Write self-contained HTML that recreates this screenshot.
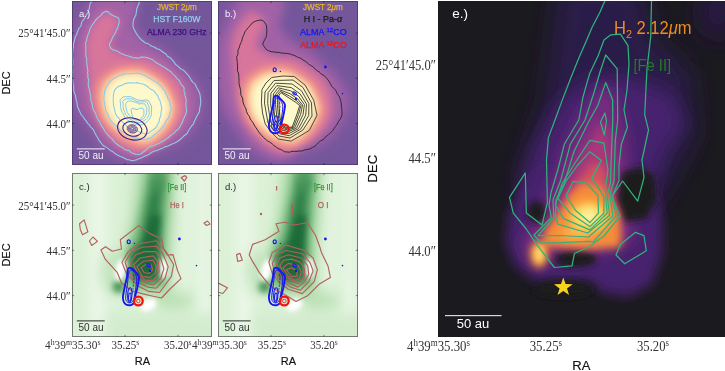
<!DOCTYPE html>
<html lang="en"><head><meta charset="utf-8"><title>Figure</title>
<style>html,body{margin:0;padding:0;background:#fff}body{width:725px;height:371px;overflow:hidden}svg{display:block}</style>
</head><body>
<svg width="725" height="371" viewBox="0 0 725 371">
<defs>
<filter id="b2" x="-50%" y="-50%" width="200%" height="200%"><feGaussianBlur stdDeviation="2"/></filter>
<filter id="b3" x="-50%" y="-50%" width="200%" height="200%"><feGaussianBlur stdDeviation="3"/></filter>
<filter id="b4" x="-50%" y="-50%" width="200%" height="200%"><feGaussianBlur stdDeviation="4"/></filter>
<filter id="b5" x="-50%" y="-50%" width="200%" height="200%"><feGaussianBlur stdDeviation="5"/></filter>
<filter id="b6" x="-50%" y="-50%" width="200%" height="200%"><feGaussianBlur stdDeviation="6"/></filter>
<filter id="b7" x="-50%" y="-50%" width="200%" height="200%"><feGaussianBlur stdDeviation="7"/></filter>
<filter id="b9" x="-50%" y="-50%" width="200%" height="200%"><feGaussianBlur stdDeviation="9"/></filter>
<filter id="b12" x="-50%" y="-50%" width="200%" height="200%"><feGaussianBlur stdDeviation="12"/></filter>
<clipPath id="ca"><rect x="72" y="1" width="140" height="164"/></clipPath>
<clipPath id="cc"><rect x="72" y="173" width="140" height="164"/></clipPath>
<clipPath id="ce"><rect x="438" y="1" width="287" height="336.3"/></clipPath>
<g id="jw">
<rect x="60" y="-10" width="165" height="190" fill="#74569b"/>
<g filter="url(#b7)">
<path d="M94.0,-12.8 C85.5,-10.1 86.2,-1.6 83.0,3.7 C79.8,9.0 77.3,13.8 74.9,18.9 C72.4,24.0 69.7,28.9 68.3,34.3 C66.8,39.6 66.7,45.5 66.3,51.0 C65.9,56.5 65.8,62.2 65.8,67.5 C65.9,72.8 66.0,78.3 66.5,82.9 C67.0,87.5 67.6,90.3 68.7,95.0 C69.8,99.7 71.1,106.4 73.1,111.2 C75.1,115.9 77.9,119.4 80.8,123.6 C83.7,127.8 88.1,132.5 90.7,136.4 C93.3,140.2 93.9,143.7 96.2,146.7 C98.5,149.7 101.1,151.5 104.8,154.1 C108.4,156.6 113.8,159.9 118.2,162.1 C122.6,164.3 127.0,166.9 131.2,167.1 C135.4,167.2 139.3,164.9 143.5,163.2 C147.7,161.5 151.8,158.6 156.4,156.6 C161.0,154.6 166.4,153.2 171.0,151.1 C175.6,149.0 180.2,147.1 184.2,143.9 C188.2,140.8 192.1,136.6 195.2,132.4 C198.3,128.2 201.1,122.8 202.9,118.8 C204.7,114.7 205.6,111.6 206.2,108.2 C206.8,104.8 207.2,102.1 206.6,98.6 C206.1,95.1 204.6,90.7 202.9,87.3 C201.2,83.9 198.9,81.4 196.7,78.5 C194.5,75.6 192.2,72.2 189.7,69.7 C187.2,67.2 184.3,66.1 181.6,63.5 C178.8,61.0 176.1,57.0 173.2,54.3 C170.3,51.6 167.3,49.4 164.0,47.1 C160.7,44.9 156.8,43.0 153.4,41.1 C150.0,39.2 146.6,38.0 143.8,35.8 C141.1,33.6 138.6,30.0 136.9,27.9 C135.2,25.8 134.3,25.5 133.6,23.3 C132.9,21.1 132.1,18.1 132.5,14.7 C132.9,11.3 135.9,7.6 136.2,3.0 C136.5,-1.5 141.3,-10.2 134.3,-12.8 C127.2,-15.4 102.5,-15.6 94.0,-12.8Z" fill="#8459a1"/>
</g><g filter="url(#b5)">
<path d="M98.0,-3.0 C90.2,-0.5 90.9,7.2 88.0,12.0 C85.1,16.8 82.8,21.2 80.6,25.8 C78.4,30.4 75.9,34.9 74.6,39.8 C73.3,44.7 73.2,50.0 72.8,55.0 C72.4,60.0 72.4,65.2 72.4,70.0 C72.4,74.8 72.6,79.8 73.0,84.0 C73.4,88.2 74.0,90.7 75.0,95.0 C76.0,99.3 77.2,105.4 79.0,109.7 C80.8,114.0 83.3,117.2 86.0,121.0 C88.7,124.8 92.7,129.1 95.0,132.6 C97.3,136.1 97.9,139.3 100.0,142.0 C102.1,144.7 104.5,146.4 107.8,148.7 C111.1,151.0 116.0,154.0 120.0,156.0 C124.0,158.0 128.0,160.3 131.8,160.5 C135.6,160.7 139.2,158.6 143.0,157.0 C146.8,155.4 150.5,152.8 154.7,151.0 C158.9,149.2 163.8,147.9 168.0,146.0 C172.2,144.1 176.3,142.3 180.0,139.5 C183.7,136.7 187.2,132.8 190.0,129.0 C192.8,125.2 195.3,120.3 197.0,116.6 C198.7,112.9 199.4,110.0 200.0,107.0 C200.6,104.0 200.9,101.5 200.4,98.3 C199.9,95.1 198.5,91.0 197.0,88.0 C195.5,85.0 193.4,82.7 191.4,80.0 C189.4,77.3 187.3,74.3 185.0,72.0 C182.7,69.7 180.1,68.7 177.6,66.4 C175.1,64.1 172.7,60.5 170.0,58.0 C167.3,55.5 164.6,53.5 161.6,51.5 C158.6,49.5 155.1,47.7 152.0,46.0 C148.9,44.3 145.8,43.2 143.3,41.2 C140.8,39.2 138.6,35.9 137.0,34.0 C135.4,32.1 134.7,31.8 134.0,29.8 C133.3,27.8 132.6,25.1 133.0,22.0 C133.4,18.9 136.1,15.6 136.4,11.4 C136.7,7.2 141.0,-0.6 134.6,-3.0 C128.2,-5.4 105.8,-5.5 98.0,-3.0Z" fill="#a262a6"/>
</g><g filter="url(#b4)">
<path d="M105.5,11.4 C107.8,10.9 109.7,13.5 112.0,15.0 C114.3,16.5 118.7,17.6 119.2,20.6 C119.7,23.6 116.5,28.8 115.0,33.0 C113.5,37.2 109.5,42.6 110.0,45.8 C110.5,49.0 115.1,50.3 118.0,52.0 C120.9,53.7 124.2,55.0 127.2,56.0 C130.2,57.0 132.9,57.8 136.0,58.0 C139.1,58.2 142.2,56.5 145.5,57.2 C148.8,57.9 152.6,60.1 156.0,62.0 C159.4,63.9 162.8,66.4 166.0,68.7 C169.2,71.0 172.3,73.3 175.0,76.0 C177.7,78.7 180.4,82.4 182.0,85.0 C183.6,87.6 183.7,88.4 184.4,91.4 C185.1,94.4 185.8,99.2 186.0,103.0 C186.2,106.8 186.3,111.1 185.6,114.3 C184.9,117.5 183.3,119.5 182.0,122.0 C180.7,124.5 179.6,126.9 177.6,129.2 C175.6,131.5 172.7,133.9 170.0,136.0 C167.3,138.1 164.8,140.0 161.5,141.8 C158.2,143.6 153.8,144.9 150.0,147.0 C146.2,149.1 142.2,153.7 138.7,154.4 C135.2,155.1 132.1,152.3 129.0,151.0 C125.9,149.7 123.1,148.4 120.3,146.4 C117.5,144.4 114.7,141.7 112.0,139.0 C109.3,136.3 106.6,133.6 104.3,130.3 C102.0,127.0 99.9,122.8 98.0,119.0 C96.1,115.2 94.2,111.7 92.9,107.5 C91.6,103.3 90.8,98.6 90.0,94.0 C89.2,89.4 88.8,84.8 88.3,80.0 C87.8,75.2 87.7,70.7 87.2,65.0 C86.8,59.3 85.5,50.6 85.6,45.8 C85.7,41.0 87.0,39.2 88.0,36.0 C89.0,32.8 90.0,29.3 91.7,26.3 C93.4,23.3 95.7,20.5 98.0,18.0 C100.3,15.5 103.2,11.9 105.5,11.4Z" fill="#d8759b"/>
</g><g filter="url(#b4)">
<path d="M126.9,65.2 C131.4,64.8 135.7,64.5 140.3,65.6 C144.8,66.8 149.7,69.2 154.2,72.0 C158.8,74.7 164.2,78.4 167.6,82.0 C171.0,85.6 172.6,89.2 174.6,93.6 C176.5,97.9 179.0,103.5 179.3,108.2 C179.5,112.8 177.8,117.2 175.8,121.5 C173.9,125.8 170.5,130.6 167.6,134.2 C164.6,137.8 161.4,140.7 158.1,143.1 C154.7,145.5 151.1,148.2 147.3,148.8 C143.4,149.4 139.3,148.1 135.2,146.9 C131.1,145.7 126.8,144.4 122.5,141.8 C118.2,139.2 112.9,134.6 109.5,131.4 C106.1,128.2 104.1,125.7 102.2,122.8 C100.2,119.9 99.0,117.3 97.9,113.9 C96.7,110.5 95.7,106.3 95.2,102.5 C94.7,98.6 94.4,94.2 94.9,90.6 C95.5,87.1 96.9,83.6 98.4,80.9 C99.8,78.2 100.9,76.6 103.4,74.5 C106.0,72.4 109.7,69.7 113.6,68.2 C117.5,66.6 122.5,65.7 126.9,65.2Z" fill="#ef8f8a"/>
</g><g filter="url(#b3)">
<path d="M128.2,69.6 C132.2,69.3 136.0,69.0 140.1,70.0 C144.1,71.0 148.4,73.2 152.5,75.6 C156.5,78.0 161.3,81.3 164.4,84.5 C167.4,87.7 168.8,91.0 170.6,94.8 C172.3,98.7 174.6,103.7 174.8,107.8 C174.9,112.0 173.4,115.8 171.7,119.7 C170.0,123.6 167.0,127.8 164.4,131.0 C161.7,134.2 158.9,136.7 155.9,138.9 C152.9,141.1 149.7,143.4 146.3,144.0 C142.9,144.6 139.2,143.3 135.5,142.3 C131.9,141.3 128.0,140.1 124.2,137.8 C120.4,135.5 115.7,131.3 112.7,128.5 C109.7,125.7 107.9,123.4 106.2,120.8 C104.4,118.2 103.4,115.9 102.3,112.9 C101.3,109.9 100.4,106.2 100.0,102.7 C99.5,99.3 99.3,95.4 99.7,92.2 C100.2,89.0 101.5,85.9 102.8,83.5 C104.0,81.1 105.0,79.8 107.3,77.9 C109.6,76.0 112.9,73.6 116.3,72.2 C119.8,70.9 124.2,70.0 128.2,69.6Z" fill="#fbb291"/>
<path d="M129.2,72.7 C132.8,72.4 136.3,72.1 140.0,73.1 C143.7,74.0 147.7,76.0 151.3,78.2 C155.0,80.4 159.4,83.4 162.2,86.3 C164.9,89.3 166.2,92.2 167.8,95.7 C169.4,99.3 171.5,103.8 171.6,107.6 C171.8,111.3 170.4,114.9 168.9,118.4 C167.3,121.9 164.6,125.8 162.2,128.7 C159.8,131.6 157.2,133.9 154.4,135.9 C151.7,137.9 148.8,140.0 145.7,140.5 C142.6,141.0 139.2,139.9 135.9,139.0 C132.5,138.0 129.1,136.9 125.6,134.9 C122.1,132.8 117.8,129.0 115.1,126.4 C112.3,123.8 110.7,121.8 109.1,119.4 C107.5,117.0 106.6,114.9 105.6,112.2 C104.7,109.4 103.8,106.1 103.4,102.9 C103.1,99.8 102.8,96.3 103.2,93.3 C103.7,90.4 104.9,87.6 106.0,85.4 C107.2,83.2 108.1,82.0 110.1,80.3 C112.2,78.5 115.2,76.4 118.4,75.1 C121.6,73.9 125.6,73.1 129.2,72.7Z" fill="#fdd9a6"/>
</g><g filter="url(#b3)">
<path d="M130.2,76.0 C133.5,75.7 136.6,75.4 140.0,76.2 C143.3,77.1 146.9,78.9 150.2,80.9 C153.5,82.9 157.5,85.6 160.0,88.2 C162.4,90.9 163.6,93.5 165.1,96.7 C166.5,99.9 168.4,104.0 168.5,107.4 C168.7,110.8 167.4,114.0 166.0,117.2 C164.6,120.3 162.1,123.8 160.0,126.5 C157.8,129.1 155.5,131.2 153.0,133.0 C150.5,134.8 147.9,136.7 145.1,137.2 C142.3,137.6 139.3,136.6 136.2,135.8 C133.2,134.9 130.1,133.9 126.9,132.0 C123.8,130.1 119.9,126.7 117.5,124.4 C115.0,122.1 113.5,120.2 112.1,118.1 C110.6,116.0 109.8,114.1 108.9,111.6 C108.1,109.1 107.3,106.0 106.9,103.2 C106.6,100.4 106.4,97.2 106.8,94.6 C107.2,91.9 108.2,89.4 109.3,87.4 C110.3,85.4 111.1,84.3 113.0,82.8 C114.9,81.2 117.6,79.2 120.4,78.1 C123.3,77.0 126.9,76.3 130.2,76.0Z" fill="#fdf9ca"/>
</g></g>
<g id="fe">
<rect x="60" y="165" width="165" height="185" fill="#dcf1d7"/>
<g filter="url(#b6)">
<rect x="90" y="165" width="16" height="190" fill="#ebf7e8"/>
<rect x="178" y="165" width="10" height="120" fill="#e6f5e2"/>
<rect x="198" y="165" width="10" height="190" fill="#ebf7e8"/>
<rect x="104" y="314" width="120" height="40" fill="#d3ecce"/>
</g>
<g filter="url(#b7)">
<path d="M138.0,160.0 L176.0,160.0 L174.0,215.0 L170.0,262.0 L170.0,296.0 L126.0,296.0 L122.0,262.0 L130.0,225.0Z" fill="#b0dbab"/>
<ellipse cx="174" cy="301" rx="20" ry="8" fill="#b9dfb4"/>
<ellipse cx="112" cy="272" rx="12" ry="22" fill="#c4e4bf"/>
</g>
<g filter="url(#b5)">
<path d="M147.0,160.0 L171.0,160.0 L168.0,200.0 L165.0,240.0 L165.0,287.0 L126.0,287.0 L127.0,250.0 L136.0,228.0 L143.0,195.0Z" fill="#74b87c"/>
</g>
<g filter="url(#b4)">
<path d="M153.5,178.0 L163.5,178.0 L161.5,200.0 L159.0,238.0 L158.0,281.0 L134.0,281.0 L130.0,256.0 L141.0,240.0 L147.5,200.0Z" fill="#2f7f47"/>
</g>
<g filter="url(#b3)">
<path d="M151.0,215.0 L160.0,215.0 L158.0,245.0 L157.0,279.0 L135.0,279.0 L132.0,257.0 L143.0,243.0Z" fill="#1f6a38"/>
<ellipse cx="118.5" cy="287" rx="6" ry="6" fill="#3f9151"/>
</g>
<g filter="url(#b5)">
<path d="M154.0,160.0 L164.0,160.0 L162.5,190.0 L152.0,190.0Z" fill="#4c9a5c"/>
</g>
<g filter="url(#b2)" fill="#ffffff">
<ellipse cx="120.5" cy="270" rx="5" ry="11" transform="rotate(12 120.5 270)"/>
<ellipse cx="163.8" cy="268" rx="4" ry="10.5"/>
<ellipse cx="148.5" cy="305" rx="8.5" ry="5.5" transform="rotate(-25 148.5 305)"/>
</g>
</g>
</defs>
<rect width="725" height="371" fill="#ffffff"/>
<g clip-path="url(#ca)"><use href="#jw"/>
<g fill="none" stroke="#8fcbe9" stroke-width="1.1" stroke-linejoin="round">
<path d="M98.0,-3.1 L94.3,-1.4 L91.9,0.3 L91.0,2.4 L89.9,4.3 L89.6,6.6 L89.1,9.2 L88.3,12.1 L86.2,14.9 L85.1,17.2 L84.1,19.1 L82.6,20.7 L81.5,22.8 L81.0,26.0 L78.9,28.5 L78.0,30.8 L77.2,32.7 L76.5,34.7 L75.3,36.8 L74.6,39.8 L73.7,42.8 L73.3,45.2 L73.5,47.3 L72.8,49.4 L72.6,51.9 L72.4,55.0 L72.5,58.1 L72.9,60.5 L72.8,62.6 L72.7,64.7 L72.0,67.0 L72.6,70.0 L72.5,73.5 L72.1,76.2 L72.7,78.5 L72.7,81.0 L73.1,84.0 L73.8,87.3 L73.6,89.5 L73.9,91.6 L75.3,94.9 L75.8,97.7 L76.2,100.1 L77.0,102.2 L77.1,104.5 L77.6,107.0 L78.9,109.8 L80.3,112.7 L81.2,114.9 L82.9,116.3 L84.0,118.4 L86.1,120.9 L87.7,123.4 L89.5,125.1 L90.5,127.1 L92.3,128.4 L93.7,130.2 L94.8,132.7 L96.4,135.8 L97.7,137.7 L98.5,139.6 L100.2,141.9 L102.0,144.0 L103.2,145.6 L105.2,146.6 L108.0,148.4 L110.3,150.4 L112.7,151.6 L114.6,153.3 L116.9,154.8 L119.9,156.2 L122.9,157.5 L125.1,158.6 L127.0,159.6 L129.1,159.8 L131.8,160.7 L134.5,160.3 L136.5,159.9 L138.1,158.9 L140.3,158.2 L143.0,157.1 L145.7,155.7 L147.9,155.0 L149.7,153.7 L151.7,152.2 L154.7,151.0 L157.9,150.1 L160.2,148.9 L162.5,148.3 L164.8,146.9 L168.0,146.0 L171.0,144.6 L173.3,143.6 L175.2,142.7 L177.4,141.5 L180.0,139.5 L182.2,137.7 L183.8,136.0 L185.4,134.7 L187.1,133.5 L188.2,131.3 L189.7,128.8 L191.7,125.9 L193.5,123.8 L194.3,121.5 L195.4,119.2 L196.7,116.5 L198.3,113.5 L199.5,111.6 L199.5,109.6 L200.0,107.0 L200.6,103.8 L200.8,101.6 L200.4,98.3 L200.1,95.4 L199.6,93.0 L198.5,90.7 L196.9,88.0 L195.7,85.4 L194.8,83.6 L192.9,82.4 L191.2,80.1 L189.8,77.6 L188.5,75.7 L187.1,74.0 L185.1,71.9 L183.2,70.0 L181.4,69.3 L179.9,68.0 L177.9,66.1 L175.4,64.2 L174.1,62.1 L172.4,60.2 L170.2,57.7 L167.4,56.2 L166.2,54.2 L164.3,53.0 L161.8,51.2 L159.2,49.4 L156.7,48.8 L154.8,47.3 L151.8,46.3 L149.4,44.6 L147.5,43.4 L145.4,43.0 L143.2,41.3 L140.9,39.5 L139.4,37.7 L138.2,36.0 L136.7,34.2 L135.4,31.7 L134.3,29.7 L133.2,27.5 L133.0,25.3 L133.2,22.0 L133.7,19.4 L134.7,17.2 L135.9,15.0 L136.4,11.4 L136.8,8.5 L138.0,5.8 L139.1,3.3 L139.2,0.9 L137.7,-1.0 L134.6,-3.1 L132.7,-4.0 L130.4,-4.6 L127.9,-4.8 L125.3,-4.7 L122.6,-5.3 L119.8,-5.1 L117.0,-5.2 L114.2,-5.3 L111.3,-5.3 L108.4,-5.4 L105.6,-4.9 L103.0,-4.1 L100.4,-3.9Z"/>
<path d="M105.5,11.4 L107.9,11.6 L109.4,13.2 L112.0,15.0 L114.4,16.2 L116.5,17.1 L118.5,18.1 L119.2,20.6 L119.1,22.9 L118.4,25.0 L117.9,27.5 L116.5,29.9 L115.3,33.1 L113.3,36.0 L112.0,38.7 L111.2,41.2 L109.6,43.3 L109.6,45.9 L110.9,48.4 L112.7,49.8 L115.3,50.4 L118.2,51.6 L120.5,53.5 L122.7,54.0 L124.6,54.9 L127.3,55.8 L130.5,56.7 L132.8,57.6 L136.0,57.9 L138.7,58.2 L140.6,57.4 L142.7,57.1 L145.5,57.2 L148.4,58.1 L150.7,58.9 L153.1,60.1 L155.8,62.4 L158.2,63.8 L160.1,64.8 L161.8,65.9 L163.8,66.9 L166.1,68.5 L168.9,70.5 L171.0,71.8 L172.5,73.9 L175.1,75.9 L177.1,78.7 L179.2,80.5 L180.2,82.8 L181.7,85.2 L183.8,87.1 L184.1,88.6 L184.0,91.5 L184.9,93.7 L184.9,95.8 L185.7,97.8 L186.2,100.1 L185.9,103.0 L185.9,106.4 L186.5,109.0 L186.5,111.5 L185.7,114.3 L184.3,117.3 L183.4,119.3 L182.3,122.2 L180.9,124.8 L179.9,126.9 L177.9,129.5 L175.6,131.0 L174.3,132.9 L172.3,134.1 L170.0,136.0 L167.9,138.0 L166.0,138.9 L164.4,140.5 L161.4,141.7 L159.2,143.4 L157.0,144.0 L155.1,144.9 L152.9,145.8 L149.8,146.6 L147.1,148.6 L145.3,150.7 L143.1,152.0 L141.4,153.8 L138.7,154.5 L135.8,154.2 L133.7,153.6 L131.5,152.8 L129.2,150.6 L126.3,150.1 L124.4,149.2 L122.9,147.8 L120.2,146.5 L117.7,144.7 L115.8,143.3 L114.1,141.6 L112.1,138.9 L109.5,136.9 L108.0,134.9 L106.3,133.2 L104.3,130.3 L103.0,127.6 L101.4,125.8 L100.5,123.9 L99.7,121.6 L97.7,119.1 L96.4,116.5 L95.9,114.2 L95.0,112.4 L93.7,110.5 L92.6,107.6 L92.2,104.4 L91.8,102.0 L90.7,99.9 L90.9,97.2 L90.3,93.9 L89.6,90.7 L89.1,88.3 L88.5,86.0 L88.2,83.5 L88.7,80.0 L87.8,77.1 L88.0,74.9 L87.5,73.0 L87.9,70.9 L87.5,68.4 L87.0,65.0 L86.6,61.8 L86.8,58.9 L85.9,56.3 L85.7,53.7 L85.8,51.2 L85.9,48.6 L85.7,45.8 L85.7,42.0 L86.7,40.2 L86.8,38.4 L87.6,35.9 L88.7,33.1 L89.5,31.0 L90.0,28.8 L91.4,26.2 L93.1,23.7 L94.6,21.9 L95.7,20.0 L97.9,17.9 L100.3,15.8 L102.0,14.0 L103.5,12.4Z"/>
<path d="M129.5,73.7 L132.5,73.5 L134.7,73.4 L137.0,73.0 L140.1,73.6 L142.6,74.6 L144.7,75.2 L146.3,76.5 L148.3,77.6 L151.0,79.1 L153.6,80.6 L155.7,82.1 L157.8,83.0 L159.5,84.8 L161.7,86.7 L163.3,89.5 L165.2,90.9 L165.5,93.2 L167.3,95.8 L168.0,98.6 L169.3,100.6 L170.0,102.6 L170.1,104.8 L171.1,107.5 L171.1,110.7 L169.9,112.8 L169.4,115.1 L168.3,118.2 L166.4,120.3 L165.4,122.2 L164.9,124.3 L163.3,125.9 L161.8,128.2 L159.6,130.5 L157.9,131.9 L156.5,133.6 L153.9,134.9 L151.9,137.1 L150.1,138.2 L148.0,138.6 L145.5,139.6 L142.9,139.8 L140.9,139.4 L138.8,138.9 L136.0,138.1 L133.1,137.6 L131.1,136.4 L129.1,135.3 L126.2,133.6 L123.6,132.3 L121.4,131.0 L119.6,129.5 L118.0,127.6 L115.9,125.7 L112.9,123.4 L111.4,121.6 L109.9,119.1 L108.5,116.6 L107.8,114.7 L106.6,112.0 L105.4,109.7 L105.6,107.6 L104.8,105.7 L104.5,103.0 L103.9,100.3 L103.9,98.2 L103.9,96.2 L104.5,93.7 L104.6,90.5 L105.8,88.5 L106.7,85.9 L108.7,83.4 L110.7,80.7 L112.7,79.3 L114.4,78.1 L116.4,77.3 L118.9,75.6 L121.8,75.0 L124.0,74.1 L126.4,73.8Z"/>
<path d="M115.6,88.9 L117.6,87.0 L119.3,86.1 L122.1,85.3 L124.2,83.9 L126.2,83.4 L128.3,82.9 L131.0,82.8 L134.3,83.0 L136.9,82.6 L140.0,83.5 L143.0,84.0 L145.1,85.0 L147.8,86.8 L150.0,88.7 L152.0,89.8 L154.2,91.1 L156.2,93.9 L158.0,96.1 L158.7,98.5 L159.8,100.4 L160.6,102.6 L161.2,105.3 L161.7,108.4 L161.4,110.7 L161.0,112.9 L160.7,116.1 L159.5,119.0 L159.2,121.4 L158.1,123.4 L157.0,125.8 L155.1,128.3 L153.3,129.7 L151.0,131.1 L148.6,133.2 L145.5,134.1 L143.2,133.3 L141.1,132.7 L138.9,131.7 L136.1,130.8 L132.8,129.7 L130.7,128.4 L127.8,127.3 L125.9,125.2 L124.5,124.0 L122.5,122.2 L120.3,120.1 L118.8,118.2 L116.8,116.1 L115.4,113.5 L114.7,110.0 L114.1,107.7 L113.5,105.6 L113.5,103.3 L113.2,101.0 L113.3,98.3 L113.4,95.2 L113.9,92.9 L114.3,90.9Z"/>
</g>
<g fill="none" stroke="#7cc4e6" stroke-width="0.9" stroke-linejoin="round">
<path d="M121.7,98.2 L123.4,96.9 L125.3,96.7 L128.0,96.7 L130.3,96.5 L131.7,97.2 L133.9,98.2 L136.2,99.2 L137.7,99.9 L140.0,100.3 L142.4,100.4 L144.0,100.2 L146.0,99.8 L148.5,100.7 L149.8,103.1 L151.1,105.1 L151.6,107.0 L151.6,110.0 L151.3,112.4 L151.5,114.2 L151.0,115.9 L149.9,118.0 L148.5,120.3 L147.3,121.7 L145.1,123.2 L142.6,124.2 L140.8,124.9 L138.0,124.7 L135.3,124.4 L133.6,123.4 L130.9,122.1 L129.0,120.7 L127.5,120.1 L126.3,119.0 L124.8,117.2 L123.7,115.0 L122.9,113.6 L122.0,112.3 L121.3,110.0 L120.4,107.3 L120.6,105.4 L120.4,103.0 L120.0,99.9Z"/>
<path d="M123.8,99.9 L125.5,99.1 L127.1,98.8 L129.4,98.7 L132.0,98.9 L134.3,100.2 L136.8,101.4 L139.4,102.1 L142.1,101.9 L144.5,101.5 L146.7,102.1 L147.9,104.2 L148.7,106.0 L149.3,107.5 L148.9,110.1 L149.3,112.7 L149.0,114.6 L148.1,116.9 L146.5,118.7 L145.5,119.8 L143.5,120.8 L141.6,122.0 L140.1,122.6 L137.8,122.4 L135.5,122.0 L133.9,121.6 L132.0,119.9 L129.7,119.0 L128.3,118.0 L127.0,115.8 L125.2,114.1 L124.9,112.3 L123.9,110.1 L123.3,107.8 L123.0,106.2 L123.1,104.2 L122.7,101.6Z"/>
<path d="M126.6,102.4 L128.3,101.0 L130.9,100.9 L132.9,101.7 L135.0,102.0 L137.1,102.9 L139.0,104.0 L141.2,103.6 L143.1,103.8 L144.9,103.9 L145.6,105.7 L146.8,107.6 L146.8,110.3 L146.6,112.4 L146.5,113.9 L145.6,115.6 L144.4,117.8 L142.6,119.4 L140.1,120.0 L137.7,120.1 L135.2,119.9 L132.8,118.6 L130.8,116.9 L128.9,115.0 L127.5,112.7 L126.6,110.3 L126.1,107.8 L125.8,105.6 L125.7,103.5Z"/>
<path d="M132.1,108.2 L134.0,108.8 L137.0,109.7 L139.7,108.3 L142.0,108.1 L143.8,109.2 L144.0,112.0 L143.9,114.4 L143.1,116.2 L141.5,118.0 L139.5,119.8 L137.0,119.5 L134.5,119.1 L132.8,117.1 L131.9,114.6 L131.5,112.0 L131.1,109.4Z"/>
</g>
<g fill="none" stroke="#4b1a86">
<ellipse cx="132.3" cy="128.9" rx="15" ry="10.8" stroke-width="1.1" transform="rotate(16 132.3 128.9)"/>
<ellipse cx="132.3" cy="128.9" rx="9.7" ry="7.1" stroke-width="1.1" transform="rotate(16 132.3 128.9)"/>
<ellipse cx="132.3" cy="128.9" rx="5.2" ry="4.1" stroke-width="0.7" transform="rotate(16 132.3 128.9)"/>
<ellipse cx="132.3" cy="128.9" rx="3.9" ry="3.1" stroke-width="0.65" transform="rotate(16 132.3 128.9)"/>
<ellipse cx="132.3" cy="128.9" rx="2.7" ry="2.2" stroke-width="0.6" transform="rotate(16 132.3 128.9)"/>
<ellipse cx="132.3" cy="128.9" rx="1.5" ry="1.2" stroke-width="0.6" transform="rotate(16 132.3 128.9)"/>
</g>
</g>
<g transform="translate(146,0)"><g clip-path="url(#ca)"><use href="#jw"/></g></g>
<g clip-path="url(#ca)" transform="translate(146,0)"><g transform="translate(-146,0)">
<path d="M258.3,20.4 L256.3,20.9 L254.2,21.8 L252.1,23.1 L250.5,25.2 L248.4,27.5 L246.7,29.6 L244.8,31.9 L244.1,34.4 L243.0,36.2 L242.2,38.9 L241.7,41.3 L240.6,43.3 L239.8,45.5 L239.1,48.0 L237.9,50.3 L238.1,52.6 L237.7,54.7 L236.6,57.2 L237.0,60.0 L237.3,62.5 L237.4,65.1 L237.6,68.0 L237.4,70.8 L238.4,72.9 L238.8,75.1 L238.8,77.8 L239.1,80.4 L238.9,82.7 L239.3,85.0 L240.1,88.0 L240.7,90.6 L240.7,93.1 L241.1,95.6 L242.6,98.0 L242.8,101.1 L243.6,104.0 L244.7,106.6 L246.0,109.0 L246.5,111.7 L247.8,114.4 L249.5,116.7 L250.2,119.0 L251.5,120.7 L252.9,122.5 L254.1,124.9 L255.6,127.2 L257.0,129.2 L258.2,131.1 L259.6,133.1 L261.5,135.3 L263.5,137.4 L265.3,139.2 L267.3,140.7 L269.6,142.0 L272.2,143.8 L274.1,145.7 L276.2,147.1 L278.1,148.5 L280.4,149.3 L282.4,150.3 L284.6,151.8 L287.4,152.0 L289.7,152.2 L291.9,151.4 L294.3,151.3 L297.0,151.4 L299.8,150.9 L302.4,151.0 L304.7,149.9 L307.2,149.6 L310.0,148.9 L312.5,147.4 L314.8,146.3 L316.7,144.6 L318.5,142.6 L320.8,140.7 L323.5,139.6 L325.0,137.4 L326.8,136.0 L328.6,134.5 L330.6,132.8 L332.8,130.6 L334.1,128.4 L335.5,126.4 L337.2,124.1 L338.5,121.4 L340.0,119.3 L341.3,117.1 L342.1,114.3 L341.9,111.3 L341.8,108.7 L341.3,106.0 L341.2,103.0 L340.5,100.2 L339.9,97.9 L338.8,95.9 L337.2,93.8 L336.3,91.4 L335.2,89.5 L333.4,88.1 L331.6,86.2 L330.5,83.8 L329.2,81.7 L328.0,79.9 L326.7,78.3 L325.5,77.1 L323.8,75.2 L321.6,74.4 L319.9,72.4 L317.5,70.9 L315.2,69.1 L313.2,66.8 L310.6,65.4 L308.6,64.1 L307.0,62.6 L305.2,61.2 L303.0,60.0 L300.7,58.2 L298.4,57.5 L296.4,56.5 L294.1,55.3 L291.5,54.6 L289.4,53.8 L287.2,53.5 L284.7,53.3 L281.5,53.0 L278.9,52.4 L276.0,52.3 L273.3,51.8 L271.0,51.7 L268.6,50.7 L265.9,49.2 L264.4,46.7 L262.7,44.6 L263.7,41.7 L265.2,38.8 L266.3,36.7 L266.6,34.3 L266.8,31.2 L266.7,28.0 L266.4,25.2 L265.0,23.0 L263.5,21.1 L261.1,20.0Z" fill="none" stroke="#302c34" stroke-width="1" stroke-linejoin="round"/>
<g fill="none" stroke="#4b4b3e" stroke-width="1" stroke-linejoin="round">
<path d="M262.0,89.4 L266.0,83.0 L271.7,77.5 L283.0,76.0 L294.3,76.5 L305.1,85.1 L313.7,100.2 L317.0,115.3 L309.4,130.3 L300.0,136.0 L291.1,141.1 L278.2,139.0 L271.0,132.0 L265.2,123.9 L262.5,113.0 L261.4,102.3Z"/>
<path d="M265.0,92.0 L274.0,80.5 L293.0,80.0 L303.0,87.5 L311.5,103.0 L312.0,116.0 L303.0,130.0 L290.0,138.0 L279.0,136.0 L268.0,123.0 L264.5,103.0Z"/>
<path d="M268.1,92.7 L275.5,83.2 L292.1,84.0 L301.5,90.8 L308.9,103.6 L308.7,115.6 L300.6,129.3 L289.3,135.7 L279.9,133.8 L270.6,121.9 L267.7,103.4Z"/>
<path d="M270.9,93.3 L276.9,85.6 L291.3,87.6 L300.1,93.8 L306.5,104.1 L305.7,115.2 L298.5,128.7 L288.7,133.6 L280.7,131.8 L273.0,120.9 L270.6,103.8Z"/>
<path d="M273.4,93.8 L278.2,87.8 L290.6,90.8 L298.8,96.5 L304.4,104.6 L303.0,114.8 L296.5,128.2 L288.2,131.7 L281.4,130.0 L275.2,120.0 L273.2,104.2Z"/>
<path d="M275.6,94.3 L279.3,89.7 L290.0,93.7 L297.7,98.9 L302.5,105.0 L300.6,114.5 L294.8,127.7 L287.7,130.0 L282.0,128.4 L277.1,119.2 L275.5,104.5Z"/>
<path d="M277.5,94.7 L280.2,91.3 L289.4,96.0 L296.8,100.8 L301.0,105.3 L298.6,114.2 L293.4,127.3 L287.3,128.7 L282.6,127.1 L278.7,118.5 L277.4,104.8Z"/>
<path d="M279.0,95.0 L281.0,92.6 L289.0,98.0 L296.0,102.5 L299.7,105.6 L297.0,114.0 L292.2,127.0 L287.0,127.5 L283.0,126.0 L280.0,118.0 L279.0,105.0Z"/>
</g>
<g transform="translate(218,1)"><g fill="none" stroke="#1515f2" stroke-linejoin="round">
<path d="M57.6,94.8 C57.0,95.0 56.2,94.9 55.8,96.4 C55.4,97.9 55.3,101.8 55.0,103.9 C54.7,106.0 54.2,107.3 53.8,109.0 C53.4,110.7 53.1,112.3 52.7,114.1 C52.3,115.8 51.9,117.8 51.6,119.5 C51.3,121.2 50.9,122.7 50.9,124.3 C50.9,125.9 51.4,128.0 51.9,129.2 C52.4,130.4 53.0,130.8 53.7,131.3 C54.4,131.8 55.1,132.1 56.0,132.2 C56.9,132.3 58.0,132.3 58.8,132.1 C59.6,131.9 60.3,131.6 60.9,131.0 C61.5,130.4 61.9,129.6 62.3,128.5 C62.6,127.4 62.7,125.9 63.0,124.3 C63.3,122.7 63.9,120.7 64.3,119.0 C64.7,117.3 65.2,115.8 65.5,114.1 C65.8,112.4 66.2,110.7 66.4,109.0 C66.7,107.3 67.1,105.5 67.0,104.2 C66.9,102.9 66.4,102.3 65.8,101.4 C65.2,100.5 64.0,99.4 63.2,98.6 C62.4,97.8 61.5,96.9 60.8,96.3 C60.1,95.7 59.7,95.2 59.2,95.0 C58.7,94.8 58.2,94.6 57.6,94.8Z" stroke-width="1.85"/>
<path d="M58.3,97.1 C57.7,97.6 57.2,98.2 56.8,99.9 C56.3,101.6 56.1,104.8 55.9,107.1 C55.6,109.5 55.3,112.0 55.0,114.1 C54.8,116.2 54.4,118.0 54.1,119.9 C53.9,121.8 53.6,124.1 53.7,125.6 C53.8,127.0 54.2,127.9 54.8,128.6 C55.3,129.3 56.1,129.8 56.9,129.9 C57.7,130.0 58.8,129.8 59.5,129.3 C60.3,128.8 61.0,128.2 61.5,126.9 C62.0,125.7 62.3,123.5 62.6,121.8 C62.9,120.2 63.2,118.7 63.5,116.9 C63.8,115.1 64.1,113.0 64.3,111.1 C64.5,109.2 64.8,107.1 64.8,105.6 C64.7,104.0 64.3,102.9 63.9,101.8 C63.4,100.8 62.8,100.1 62.1,99.3 C61.5,98.5 60.7,97.7 60.1,97.3 C59.4,97.0 58.8,96.7 58.3,97.1Z" stroke-width="1"/>
<path d="M61.6,101.0 L62.0,106.0 L61.2,114.0 L60.4,121.0" stroke-width="0.7" stroke-dasharray="2.5 1"/>
<ellipse cx="57.8" cy="122" rx="2.1" ry="7.2" stroke-width="1.1" transform="rotate(3 57.8 122)"/>
<ellipse cx="57.8" cy="124" rx="1.2" ry="4" stroke-width="1.1" transform="rotate(3 57.8 124)"/>
<ellipse cx="56.7" cy="68.8" rx="1.6" ry="1.9" stroke-width="1.2"/>
<ellipse cx="76.6" cy="92.4" rx="1.9" ry="1.3" stroke-width="1.1" transform="rotate(25 76.6 92.4)"/>
</g>
<g fill="#1515f2"><circle cx="62.4" cy="70.4" r="0.7"/><circle cx="107.4" cy="66" r="1.4"/><circle cx="78" cy="98" r="1.2"/><circle cx="124.5" cy="92.6" r="0.8"/></g>
<g fill="none" stroke="#f21414"><circle cx="66.3" cy="128" r="4.4" stroke-width="2.3"/><circle cx="66.3" cy="128" r="1.8" stroke-width="0.8"/></g></g>
</g></g>
<g clip-path="url(#cc)"><use href="#fe"/>
<g fill="none" stroke="#b4605c" stroke-width="1.15" stroke-linejoin="round">
<path d="M100.9,250.0 L105.5,246.7 L112.3,251.2 L121.5,249.0 L120.3,239.8 L138.7,225.6 L150.0,233.6 L161.5,238.7 L163.8,249.0 L167.3,255.0 L173.0,254.6 L177.6,270.6 L181.0,278.6 L170.0,289.0 L161.5,298.0 L152.0,296.0 L143.0,293.9 L132.0,291.0 L121.5,283.0 L117.2,272.3 L105.4,259.4Z"/>
<path d="M121.9,262.3 L128.3,251.6 L138.0,244.0 L156.3,240.8 L166.0,251.6 L173.6,264.5 L171.4,276.3 L159.6,292.5 L148.8,291.4 L138.0,286.0 L126.2,273.1Z"/>
<path d="M125.0,262.3 L131.6,251.6 L142.3,247.2 L156.3,246.2 L162.8,253.7 L168.2,266.6 L165.0,278.5 L156.3,288.2 L147.7,287.1 L137.0,282.0 L128.5,272.0Z"/>
<path d="M130.5,262.3 L135.9,254.8 L144.5,251.6 L155.3,251.6 L160.6,258.0 L163.9,268.8 L160.6,278.5 L153.1,285.0 L145.6,282.8 L137.0,277.0 L132.0,270.0Z"/>
<path d="M133.7,264.5 L140.2,258.0 L153.1,255.9 L158.5,262.3 L159.1,272.0 L153.1,280.6 L145.6,280.6 L138.0,274.5Z"/>
<path d="M136.9,266.6 L143.4,261.3 L153.1,260.2 L156.3,266.6 L155.3,273.1 L149.9,277.4 L142.3,276.3Z"/>
<path d="M141.0,267.5 L146.0,264.5 L151.5,265.0 L152.5,270.0 L149.0,273.5 L144.0,272.5Z"/>
<path d="M181.3,177.5 L185.1,175.6 L186.7,177.5 L184.3,181.1Z" stroke-width="1.2"/>
<path d="M204.0,223.0 L207.5,221.0 L210.0,224.0 L206.5,225.5Z"/>
<path d="M79.6,223.8 L84.2,219.9 L87.9,231.8 L82.6,234.8 L80.3,229.5Z"/>
<path d="M89.5,241.0 L92.9,237.0 L97.5,241.4 L91.7,245.5Z"/>
</g>
<g transform="translate(72,173)"><g fill="none" stroke="#1515f2" stroke-linejoin="round">
<path d="M57.6,94.8 C57.0,95.0 56.2,94.9 55.8,96.4 C55.4,97.9 55.3,101.8 55.0,103.9 C54.7,106.0 54.2,107.3 53.8,109.0 C53.4,110.7 53.1,112.3 52.7,114.1 C52.3,115.8 51.9,117.8 51.6,119.5 C51.3,121.2 50.9,122.7 50.9,124.3 C50.9,125.9 51.4,128.0 51.9,129.2 C52.4,130.4 53.0,130.8 53.7,131.3 C54.4,131.8 55.1,132.1 56.0,132.2 C56.9,132.3 58.0,132.3 58.8,132.1 C59.6,131.9 60.3,131.6 60.9,131.0 C61.5,130.4 61.9,129.6 62.3,128.5 C62.6,127.4 62.7,125.9 63.0,124.3 C63.3,122.7 63.9,120.7 64.3,119.0 C64.7,117.3 65.2,115.8 65.5,114.1 C65.8,112.4 66.2,110.7 66.4,109.0 C66.7,107.3 67.1,105.5 67.0,104.2 C66.9,102.9 66.4,102.3 65.8,101.4 C65.2,100.5 64.0,99.4 63.2,98.6 C62.4,97.8 61.5,96.9 60.8,96.3 C60.1,95.7 59.7,95.2 59.2,95.0 C58.7,94.8 58.2,94.6 57.6,94.8Z" stroke-width="1.85"/>
<path d="M58.3,97.1 C57.7,97.6 57.2,98.2 56.8,99.9 C56.3,101.6 56.1,104.8 55.9,107.1 C55.6,109.5 55.3,112.0 55.0,114.1 C54.8,116.2 54.4,118.0 54.1,119.9 C53.9,121.8 53.6,124.1 53.7,125.6 C53.8,127.0 54.2,127.9 54.8,128.6 C55.3,129.3 56.1,129.8 56.9,129.9 C57.7,130.0 58.8,129.8 59.5,129.3 C60.3,128.8 61.0,128.2 61.5,126.9 C62.0,125.7 62.3,123.5 62.6,121.8 C62.9,120.2 63.2,118.7 63.5,116.9 C63.8,115.1 64.1,113.0 64.3,111.1 C64.5,109.2 64.8,107.1 64.8,105.6 C64.7,104.0 64.3,102.9 63.9,101.8 C63.4,100.8 62.8,100.1 62.1,99.3 C61.5,98.5 60.7,97.7 60.1,97.3 C59.4,97.0 58.8,96.7 58.3,97.1Z" stroke-width="1"/>
<path d="M61.6,101.0 L62.0,106.0 L61.2,114.0 L60.4,121.0" stroke-width="0.7" stroke-dasharray="2.5 1"/>
<ellipse cx="57.8" cy="122" rx="2.1" ry="7.2" stroke-width="1.1" transform="rotate(3 57.8 122)"/>
<ellipse cx="57.8" cy="124" rx="1.2" ry="4" stroke-width="1.1" transform="rotate(3 57.8 124)"/>
<ellipse cx="56.7" cy="68.8" rx="1.6" ry="1.9" stroke-width="1.2"/>
<ellipse cx="76.6" cy="92.4" rx="1.9" ry="1.3" stroke-width="1.1" transform="rotate(25 76.6 92.4)"/>
</g>
<g fill="#1515f2"><circle cx="62.4" cy="70.4" r="0.7"/><circle cx="107.4" cy="66" r="1.4"/><circle cx="78" cy="98" r="1.2"/><circle cx="124.5" cy="92.6" r="0.8"/></g>
<g fill="none" stroke="#f21414"><circle cx="66.3" cy="128" r="4.4" stroke-width="2.3"/><circle cx="66.3" cy="128" r="1.8" stroke-width="0.8"/></g></g>
</g>
<g transform="translate(146,0)"><g clip-path="url(#cc)"><use href="#fe"/></g></g>
<g clip-path="url(#cc)" transform="translate(146,0)"><g transform="translate(-146,0)">
<g fill="none" stroke="#b4605c" stroke-width="1.15" stroke-linejoin="round">
<path d="M249.2,255.0 L252.6,244.4 L265.2,239.8 L279.0,231.3 L276.0,223.8 L284.7,222.2 L293.8,225.0 L307.5,222.7 L315.5,235.2 L320.1,247.8 L321.3,252.0 L322.4,254.6 L328.0,266.0 L330.4,277.5 L319.0,284.3 L307.5,295.8 L296.0,301.5 L284.7,294.6 L276.0,290.0 L268.6,284.3 L259.5,272.9 L252.6,261.4Z"/>
<path d="M268.9,262.3 L272.2,252.6 L286.2,245.1 L304.5,250.5 L313.1,258.0 L317.4,269.9 L314.2,281.7 L302.3,293.6 L288.3,289.3 L280.0,283.0 L272.2,273.1Z"/>
<path d="M272.2,263.4 L276.5,254.8 L286.2,250.5 L302.3,253.7 L309.9,262.3 L313.1,270.9 L308.8,281.7 L300.2,290.3 L290.5,287.1 L282.0,281.0 L275.4,273.1Z"/>
<path d="M276.5,264.5 L279.7,258.0 L288.3,254.8 L301.3,258.0 L307.7,265.6 L308.8,274.2 L304.5,281.7 L298.0,287.1 L290.5,283.9 L283.0,278.0 L278.0,271.0Z"/>
<path d="M279.7,265.6 L284.0,260.2 L291.6,259.1 L300.2,262.3 L304.5,268.8 L304.5,276.3 L298.0,283.9 L291.6,280.6 L284.0,275.0Z"/>
<path d="M282.9,267.7 L288.3,263.4 L298.0,265.6 L301.3,272.0 L299.1,278.5 L294.8,280.6 L288.3,276.3Z"/>
<path d="M286.2,269.9 L291.6,267.7 L297.0,270.9 L297.0,276.3 L291.6,276.3Z"/>
<path d="M276.6,186.0 L276.6,190.6"/>
<path d="M292.0,204.3 L292.0,215.8" stroke-width="1.7"/>
<path d="M236.6,254.6 L240.0,253.4 L242.3,260.3 L237.7,261.4Z"/>
<path d="M217.0,282.5 L227.4,287.8 L222.9,293.5 L217.0,292.0Z"/>
<circle cx="261" cy="214" r="0.6" fill="#b4605c"/>
</g>
<g transform="translate(218,173)"><g fill="none" stroke="#1515f2" stroke-linejoin="round">
<path d="M57.6,94.8 C57.0,95.0 56.2,94.9 55.8,96.4 C55.4,97.9 55.3,101.8 55.0,103.9 C54.7,106.0 54.2,107.3 53.8,109.0 C53.4,110.7 53.1,112.3 52.7,114.1 C52.3,115.8 51.9,117.8 51.6,119.5 C51.3,121.2 50.9,122.7 50.9,124.3 C50.9,125.9 51.4,128.0 51.9,129.2 C52.4,130.4 53.0,130.8 53.7,131.3 C54.4,131.8 55.1,132.1 56.0,132.2 C56.9,132.3 58.0,132.3 58.8,132.1 C59.6,131.9 60.3,131.6 60.9,131.0 C61.5,130.4 61.9,129.6 62.3,128.5 C62.6,127.4 62.7,125.9 63.0,124.3 C63.3,122.7 63.9,120.7 64.3,119.0 C64.7,117.3 65.2,115.8 65.5,114.1 C65.8,112.4 66.2,110.7 66.4,109.0 C66.7,107.3 67.1,105.5 67.0,104.2 C66.9,102.9 66.4,102.3 65.8,101.4 C65.2,100.5 64.0,99.4 63.2,98.6 C62.4,97.8 61.5,96.9 60.8,96.3 C60.1,95.7 59.7,95.2 59.2,95.0 C58.7,94.8 58.2,94.6 57.6,94.8Z" stroke-width="1.85"/>
<path d="M58.3,97.1 C57.7,97.6 57.2,98.2 56.8,99.9 C56.3,101.6 56.1,104.8 55.9,107.1 C55.6,109.5 55.3,112.0 55.0,114.1 C54.8,116.2 54.4,118.0 54.1,119.9 C53.9,121.8 53.6,124.1 53.7,125.6 C53.8,127.0 54.2,127.9 54.8,128.6 C55.3,129.3 56.1,129.8 56.9,129.9 C57.7,130.0 58.8,129.8 59.5,129.3 C60.3,128.8 61.0,128.2 61.5,126.9 C62.0,125.7 62.3,123.5 62.6,121.8 C62.9,120.2 63.2,118.7 63.5,116.9 C63.8,115.1 64.1,113.0 64.3,111.1 C64.5,109.2 64.8,107.1 64.8,105.6 C64.7,104.0 64.3,102.9 63.9,101.8 C63.4,100.8 62.8,100.1 62.1,99.3 C61.5,98.5 60.7,97.7 60.1,97.3 C59.4,97.0 58.8,96.7 58.3,97.1Z" stroke-width="1"/>
<path d="M61.6,101.0 L62.0,106.0 L61.2,114.0 L60.4,121.0" stroke-width="0.7" stroke-dasharray="2.5 1"/>
<ellipse cx="57.8" cy="122" rx="2.1" ry="7.2" stroke-width="1.1" transform="rotate(3 57.8 122)"/>
<ellipse cx="57.8" cy="124" rx="1.2" ry="4" stroke-width="1.1" transform="rotate(3 57.8 124)"/>
<ellipse cx="56.7" cy="68.8" rx="1.6" ry="1.9" stroke-width="1.2"/>
<ellipse cx="76.6" cy="92.4" rx="1.9" ry="1.3" stroke-width="1.1" transform="rotate(25 76.6 92.4)"/>
</g>
<g fill="#1515f2"><circle cx="62.4" cy="70.4" r="0.7"/><circle cx="107.4" cy="66" r="1.4"/><circle cx="78" cy="98" r="1.2"/><circle cx="124.5" cy="92.6" r="0.8"/></g>
<g fill="none" stroke="#f21414"><circle cx="66.3" cy="128" r="4.4" stroke-width="2.3"/><circle cx="66.3" cy="128" r="1.8" stroke-width="0.8"/></g></g>
</g></g>
<g clip-path="url(#ce)">
<g>
<rect x="438" y="0" width="287" height="337" fill="#1b1a1f"/>
<g filter="url(#b12)">
<path d="M560.0,-20.0 L640.0,-20.0 L655.0,40.0 L690.0,70.0 L696.0,135.0 L672.0,180.0 L650.0,215.0 L560.0,215.0 L522.0,205.0 L520.0,170.0 L545.0,100.0Z" fill="#2b1a48"/>
<ellipse cx="718" cy="12" rx="18" ry="26" fill="#2a1946"/>
</g>
<g filter="url(#b9)">
<path d="M590.0,78.0 L626.0,76.0 L672.0,94.0 L685.0,125.0 L666.0,150.0 L654.0,185.0 L650.0,215.0 L540.0,215.0 L520.0,190.0 L533.0,150.0 L560.0,100.0Z" fill="#47226e"/>
</g>
<g filter="url(#b6)">
<path d="M540.0,170.0 L650.0,170.0 L658.0,200.0 L663.0,225.0 L662.0,255.0 L652.0,284.0 L628.0,297.0 L602.0,292.0 L590.0,281.0 L535.0,281.0 L514.0,264.0 L506.0,242.0 L509.0,214.0 L520.0,190.0Z" fill="#47226e"/>
</g>
<g filter="url(#b7)">
<path d="M601.0,85.0 L614.0,90.0 L626.0,130.0 L630.0,180.0 L634.0,240.0 L600.0,256.0 L560.0,254.0 L532.0,268.0 L521.0,244.0 L545.0,200.0 L563.0,150.0 L583.0,110.0Z" fill="#74297f"/>
</g>
<g filter="url(#b6)">
<path d="M600.0,122.0 L609.0,127.0 L614.0,165.0 L619.0,200.0 L620.0,240.0 L585.0,248.0 L550.0,244.0 L557.0,208.0 L572.0,170.0 L587.0,142.0Z" fill="#a8387c"/>
</g>
<g filter="url(#b5)">
<path d="M594.0,162.0 L604.0,167.0 L610.0,200.0 L616.0,236.0 L585.0,244.0 L556.0,240.0 L564.0,208.0 L579.0,180.0Z" fill="#d4525f"/>
</g>
<g filter="url(#b3)" fill="#1b1a1f">
<ellipse cx="536.5" cy="212" rx="9" ry="11"/>
<path d="M622.0,172.0 L640.0,167.0 L655.0,176.0 L657.0,200.0 L646.0,219.0 L624.0,222.0 L617.0,200.0Z"/>
<ellipse cx="576" cy="259" rx="21" ry="8"/>
<ellipse cx="563" cy="289" rx="30" ry="8"/>
</g>
<g filter="url(#b4)">
<path d="M544.0,231.0 L558.0,214.0 L570.0,195.0 L582.0,184.0 L600.0,186.0 L612.0,200.0 L620.0,216.0 L621.0,247.0 L590.0,249.0 L544.0,246.0Z" fill="#f68d38"/>
<ellipse cx="539" cy="254" rx="9" ry="14" fill="#f08a38"/>
</g>
<g filter="url(#b4)">
<ellipse cx="589" cy="217" rx="19" ry="15" fill="#fdd95f"/>
<ellipse cx="577" cy="233" rx="16" ry="6" fill="#fbb84e"/>
</g><g filter="url(#b3)">
<ellipse cx="588.5" cy="216" rx="8" ry="7" fill="#fdf0a0"/>
<ellipse cx="539" cy="254" rx="5" ry="9" fill="#fddc6a"/>
</g>
</g>
<g fill="none" stroke="#2fb37c" stroke-width="1.25" stroke-linejoin="round">
<path d="M606.6,-3.0 L600.0,12.0 L592.0,27.5 L585.0,44.0 L578.2,59.6 L570.0,80.0 L562.0,100.9 L555.0,120.0 L548.4,137.6 L546.5,160.0 L547.0,185.0 L547.4,202.6 L542.0,225.0 L526.3,213.0 L525.3,172.8 L509.5,197.4 L513.3,213.2 L526.3,229.0 L536.8,244.7 L554.4,267.5 L572.0,265.8 L574.4,253.5 L588.5,247.0 L604.0,236.0 L620.0,216.0 L617.7,211.0 L611.5,197.0 L622.6,181.0 L637.7,201.2 L644.0,177.5 L642.0,160.0 L648.5,130.0 L644.7,114.7 L647.0,68.8 L650.7,36.7 L651.6,-3.0Z"/>
<path d="M610.8,34.8 L604.0,40.0 L598.0,56.0 L589.7,73.4 L583.0,97.0 L578.8,120.0 L564.3,144.3 L558.2,168.5 L551.0,192.8 L549.0,205.0 L551.3,217.7 L534.0,235.0 L541.0,243.0 L561.0,242.7 L588.5,241.3 L593.4,241.9 L616.0,216.0 L612.8,195.0 L618.9,180.7 L619.0,165.0 L621.3,144.3 L627.4,127.3 L624.0,110.0 L627.0,90.0 L629.0,64.0 L628.0,45.6 L620.5,34.1Z"/>
<path d="M605.7,55.0 L600.0,72.0 L594.3,91.7 L585.0,120.0 L570.3,144.3 L560.6,180.7 L553.0,200.0 L553.8,217.7 L538.0,235.5 L559.0,235.5 L588.5,237.0 L612.8,216.0 L609.8,195.0 L614.0,180.7 L615.2,141.8 L617.7,120.0 L617.2,68.8Z"/>
<path d="M605.7,82.6 L598.0,105.0 L588.5,122.0 L574.0,151.5 L564.3,183.0 L556.0,200.0 L555.4,216.0 L557.8,224.1 L587.7,233.0 L609.6,215.2 L607.2,195.0 L610.4,183.0 L611.6,149.0 L612.8,120.0 L612.6,100.0Z"/>
<path d="M589.9,140.4 L603.9,143.1 L608.0,170.0 L605.3,188.9 L607.1,213.2 L589.9,229.9 L563.5,218.6 L555.4,205.0 L562.1,183.5 L575.6,162.0Z"/>
<path d="M589.9,151.7 L601.2,160.6 L591.8,178.1 L599.9,190.3 L603.9,197.0 L603.9,213.2 L589.9,226.6 L570.2,213.2 L558.0,198.3 L566.2,180.8 L577.0,166.0Z"/>
<path d="M572.9,181.4 L586.4,183.0 L598.0,195.6 L598.5,213.2 L589.9,222.6 L575.6,210.5 L566.2,195.6Z"/>
<path d="M604.8,113.0 L600.5,122.0 L604.3,135.0 L606.5,121.0Z"/>
<path d="M635.5,232.3 L644.0,235.7 L646.3,250.8 L624.7,263.8 L616.0,255.0 L620.4,244.4Z"/>
</g>
<path d="M563.3,277.4 L565.6,284.0 L572.6,284.2 L567.0,288.4 L569.1,295.1 L563.3,291.1 L557.5,295.1 L559.6,288.4 L554.0,284.2 L561.0,284.0Z" fill="#f7d21e"/>
</g>
<rect x="72.5" y="1.5" width="139" height="163" fill="none" stroke="#3a2a55" stroke-opacity="0.55" stroke-width="1"/>
<rect x="218.5" y="1.5" width="139" height="163" fill="none" stroke="#3a2a55" stroke-opacity="0.55" stroke-width="1"/>
<rect x="72.5" y="173.5" width="139" height="163" fill="none" stroke="#404a40" stroke-opacity="0.7" stroke-width="1"/>
<rect x="218.5" y="173.5" width="139" height="163" fill="none" stroke="#404a40" stroke-opacity="0.7" stroke-width="1"/>
<rect x="72" y="32.6" width="2.2" height="1" fill="#2a2038" fill-opacity="0.6"/>
<rect x="209.8" y="32.6" width="2.2" height="1" fill="#2a2038" fill-opacity="0.6"/>
<rect x="72" y="77.8" width="2.2" height="1" fill="#2a2038" fill-opacity="0.6"/>
<rect x="209.8" y="77.8" width="2.2" height="1" fill="#2a2038" fill-opacity="0.6"/>
<rect x="72" y="123.1" width="2.2" height="1" fill="#2a2038" fill-opacity="0.6"/>
<rect x="209.8" y="123.1" width="2.2" height="1" fill="#2a2038" fill-opacity="0.6"/>
<rect x="124.5" y="1" width="1" height="2.2" fill="#2a2038" fill-opacity="0.6"/>
<rect x="124.5" y="162.8" width="1" height="2.2" fill="#2a2038" fill-opacity="0.6"/>
<rect x="177.5" y="1" width="1" height="2.2" fill="#2a2038" fill-opacity="0.6"/>
<rect x="177.5" y="162.8" width="1" height="2.2" fill="#2a2038" fill-opacity="0.6"/>
<rect x="218" y="32.6" width="2.2" height="1" fill="#2a2038" fill-opacity="0.6"/>
<rect x="355.8" y="32.6" width="2.2" height="1" fill="#2a2038" fill-opacity="0.6"/>
<rect x="218" y="77.8" width="2.2" height="1" fill="#2a2038" fill-opacity="0.6"/>
<rect x="355.8" y="77.8" width="2.2" height="1" fill="#2a2038" fill-opacity="0.6"/>
<rect x="218" y="123.1" width="2.2" height="1" fill="#2a2038" fill-opacity="0.6"/>
<rect x="355.8" y="123.1" width="2.2" height="1" fill="#2a2038" fill-opacity="0.6"/>
<rect x="270.5" y="1" width="1" height="2.2" fill="#2a2038" fill-opacity="0.6"/>
<rect x="270.5" y="162.8" width="1" height="2.2" fill="#2a2038" fill-opacity="0.6"/>
<rect x="323.5" y="1" width="1" height="2.2" fill="#2a2038" fill-opacity="0.6"/>
<rect x="323.5" y="162.8" width="1" height="2.2" fill="#2a2038" fill-opacity="0.6"/>
<rect x="72" y="204.6" width="2.2" height="1" fill="#3a443a" fill-opacity="0.6"/>
<rect x="209.8" y="204.6" width="2.2" height="1" fill="#3a443a" fill-opacity="0.6"/>
<rect x="72" y="249.8" width="2.2" height="1" fill="#3a443a" fill-opacity="0.6"/>
<rect x="209.8" y="249.8" width="2.2" height="1" fill="#3a443a" fill-opacity="0.6"/>
<rect x="72" y="295.1" width="2.2" height="1" fill="#3a443a" fill-opacity="0.6"/>
<rect x="209.8" y="295.1" width="2.2" height="1" fill="#3a443a" fill-opacity="0.6"/>
<rect x="124.5" y="173" width="1" height="2.2" fill="#3a443a" fill-opacity="0.6"/>
<rect x="124.5" y="334.8" width="1" height="2.2" fill="#3a443a" fill-opacity="0.6"/>
<rect x="177.5" y="173" width="1" height="2.2" fill="#3a443a" fill-opacity="0.6"/>
<rect x="177.5" y="334.8" width="1" height="2.2" fill="#3a443a" fill-opacity="0.6"/>
<rect x="218" y="204.6" width="2.2" height="1" fill="#3a443a" fill-opacity="0.6"/>
<rect x="355.8" y="204.6" width="2.2" height="1" fill="#3a443a" fill-opacity="0.6"/>
<rect x="218" y="249.8" width="2.2" height="1" fill="#3a443a" fill-opacity="0.6"/>
<rect x="355.8" y="249.8" width="2.2" height="1" fill="#3a443a" fill-opacity="0.6"/>
<rect x="218" y="295.1" width="2.2" height="1" fill="#3a443a" fill-opacity="0.6"/>
<rect x="355.8" y="295.1" width="2.2" height="1" fill="#3a443a" fill-opacity="0.6"/>
<rect x="270.5" y="173" width="1" height="2.2" fill="#3a443a" fill-opacity="0.6"/>
<rect x="270.5" y="334.8" width="1" height="2.2" fill="#3a443a" fill-opacity="0.6"/>
<rect x="323.5" y="173" width="1" height="2.2" fill="#3a443a" fill-opacity="0.6"/>
<rect x="323.5" y="334.8" width="1" height="2.2" fill="#3a443a" fill-opacity="0.6"/>
<rect x="76.8" y="148.2" width="27.9" height="1.3" fill="#f3eef6" fill-opacity="0.8"/>
<text x="91" y="158.5" text-anchor="middle" font-size="10" font-family="Liberation Sans, DejaVu Sans, sans-serif" fill="#f3eef6">50 au</text>
<rect x="222.8" y="148.2" width="27.9" height="1.3" fill="#f3eef6" fill-opacity="0.8"/>
<text x="237" y="158.5" text-anchor="middle" font-size="10" font-family="Liberation Sans, DejaVu Sans, sans-serif" fill="#f3eef6">50 au</text>
<rect x="76.8" y="320.2" width="27.9" height="1.3" fill="#333333" fill-opacity="0.8"/>
<text x="91" y="330.5" text-anchor="middle" font-size="10" font-family="Liberation Sans, DejaVu Sans, sans-serif" fill="#333333">50 au</text>
<rect x="222.8" y="320.2" width="27.9" height="1.3" fill="#333333" fill-opacity="0.8"/>
<text x="237" y="330.5" text-anchor="middle" font-size="10" font-family="Liberation Sans, DejaVu Sans, sans-serif" fill="#333333">50 au</text>
<text x="79" y="17.4" font-size="9.5" font-family="Liberation Sans, DejaVu Sans, sans-serif" fill="#f6f1f8">a.)</text>
<text x="225" y="17.4" font-size="9.5" font-family="Liberation Sans, DejaVu Sans, sans-serif" fill="#f6f1f8">b.)</text>
<text x="79" y="189.6" font-size="9.5" font-family="Liberation Sans, DejaVu Sans, sans-serif" fill="#2b2b2b">c.)</text>
<text x="225" y="189.6" font-size="9.5" font-family="Liberation Sans, DejaVu Sans, sans-serif" fill="#2b2b2b">d.)</text>
<g font-family="Liberation Sans, DejaVu Sans, sans-serif" text-anchor="middle">
<text x="176.9" y="9.5" textLength="39.8" lengthAdjust="spacingAndGlyphs" font-size="8.6" fill="#e8b62e" stroke="#e8b62e" stroke-width="0.25">JWST 2<tspan font-style="italic">μ</tspan>m</text>
<text x="176.8" y="22.1" textLength="47.2" lengthAdjust="spacingAndGlyphs" font-size="8.6" fill="#96cfee" stroke="#96cfee" stroke-width="0.25">HST F160W</text>
<text x="176.8" y="35.2" textLength="59.7" lengthAdjust="spacingAndGlyphs" font-size="8.6" fill="#3f0d82" stroke="#3f0d82" stroke-width="0.25">ALMA 230 GHz</text>
<text x="322.9" y="9.5" textLength="39.8" lengthAdjust="spacingAndGlyphs" font-size="8.6" fill="#e8b62e" stroke="#e8b62e" stroke-width="0.25">JWST 2<tspan font-style="italic">μ</tspan>m</text>
<text x="322.9" y="22.3" textLength="38.5" lengthAdjust="spacingAndGlyphs" font-size="8.6" fill="#1c1c1c" stroke="#1c1c1c" stroke-width="0.25">H I - Pa-<tspan font-style="italic">α</tspan></text>
<text x="323.3" y="35.3" textLength="46.7" lengthAdjust="spacingAndGlyphs" font-size="8.6" fill="#1515f2" stroke="#1515f2" stroke-width="0.25">ALMA <tspan font-size="5.8" dy="-3.2">12</tspan><tspan dy="3.2">CO</tspan></text>
<text x="323.3" y="48.1" textLength="46.7" lengthAdjust="spacingAndGlyphs" font-size="8.6" fill="#f21414" stroke="#f21414" stroke-width="0.25">ALMA <tspan font-size="5.8" dy="-3.2">12</tspan><tspan dy="3.2">CO</tspan></text>
<text x="177.1" y="190" textLength="18.5" lengthAdjust="spacingAndGlyphs" font-size="9" fill="#2f9438" stroke="#2f9438" stroke-width="0.25">[Fe II]</text>
<text x="176.9" y="207.8" textLength="13.6" lengthAdjust="spacingAndGlyphs" font-size="9" fill="#b4605c" stroke="#b4605c" stroke-width="0.25">He I</text>
<text x="323.3" y="190" textLength="18.8" lengthAdjust="spacingAndGlyphs" font-size="9" fill="#2f9438" stroke="#2f9438" stroke-width="0.25">[Fe II]</text>
<text x="323.1" y="207.8" textLength="10.7" lengthAdjust="spacingAndGlyphs" font-size="9" fill="#b4605c" stroke="#b4605c" stroke-width="0.25">O I</text>
</g>
<rect x="445" y="315" width="56.5" height="1.2" fill="#d8d8d8"/>
<text x="473" y="328" text-anchor="middle" font-size="13" font-family="Liberation Sans, DejaVu Sans, sans-serif" fill="#ffffff">50 au</text>
<text x="452.3" y="17.8" font-size="13.5" font-family="Liberation Sans, DejaVu Sans, sans-serif" fill="#ffffff">e.)</text>
<text x="614" y="34.1" font-size="17.5" textLength="77.6" lengthAdjust="spacingAndGlyphs" font-family="Liberation Sans, DejaVu Sans, sans-serif" fill="#f08c1e">H<tspan font-size="11.5" dy="3.5">2</tspan><tspan dy="-3.5"> 2.12</tspan><tspan font-style="italic">μ</tspan>m</text>
<text x="633.4" y="71" font-size="17" textLength="37.7" lengthAdjust="spacingAndGlyphs" font-family="Liberation Sans, DejaVu Sans, sans-serif" fill="#1f7f22">[Fe II]</text>
<text x="70.6" y="37.4" text-anchor="end" font-size="12" textLength="52.4" lengthAdjust="spacingAndGlyphs" font-family="Liberation Serif, DejaVu Serif, serif" fill="#333333">25°41′45.0″</text>
<text x="70.6" y="82.6" text-anchor="end" font-size="12" textLength="24" lengthAdjust="spacingAndGlyphs" font-family="Liberation Serif, DejaVu Serif, serif" fill="#333333">44.5″</text>
<text x="70.6" y="127.9" text-anchor="end" font-size="12" textLength="24" lengthAdjust="spacingAndGlyphs" font-family="Liberation Serif, DejaVu Serif, serif" fill="#333333">44.0″</text>
<text x="70.6" y="209.9" text-anchor="end" font-size="12" textLength="52.4" lengthAdjust="spacingAndGlyphs" font-family="Liberation Serif, DejaVu Serif, serif" fill="#333333">25°41′45.0″</text>
<text x="70.6" y="255.1" text-anchor="end" font-size="12" textLength="24" lengthAdjust="spacingAndGlyphs" font-family="Liberation Serif, DejaVu Serif, serif" fill="#333333">44.5″</text>
<text x="70.6" y="300.4" text-anchor="end" font-size="12" textLength="24" lengthAdjust="spacingAndGlyphs" font-family="Liberation Serif, DejaVu Serif, serif" fill="#333333">44.0″</text>
<text x="436" y="70" text-anchor="end" font-size="13.6" textLength="60.2" lengthAdjust="spacingAndGlyphs" font-family="Liberation Serif, DejaVu Serif, serif" fill="#333333">25°41′45.0″</text>
<text x="436" y="163" text-anchor="end" font-size="13.6" textLength="27.5" lengthAdjust="spacingAndGlyphs" font-family="Liberation Serif, DejaVu Serif, serif" fill="#333333">44.5″</text>
<text x="436" y="256.3" text-anchor="end" font-size="13.6" textLength="27.5" lengthAdjust="spacingAndGlyphs" font-family="Liberation Serif, DejaVu Serif, serif" fill="#333333">44.0″</text>
<text x="45" y="349.1" text-anchor="start" font-size="12" textLength="55.5" lengthAdjust="spacingAndGlyphs" font-family="Liberation Serif, DejaVu Serif, serif" fill="#333333">4<tspan dy="-4.3" font-size="8.4">h</tspan><tspan dy="4.3">39</tspan><tspan dy="-4.3" font-size="8.4">m</tspan><tspan dy="4.3">35.30</tspan><tspan dy="-4.3" font-size="8.4">s</tspan></text>
<text x="111.4" y="349.1" text-anchor="start" font-size="12" textLength="27.8" lengthAdjust="spacingAndGlyphs" font-family="Liberation Serif, DejaVu Serif, serif" fill="#333333">35.25<tspan dy="-4.3" font-size="8.4">s</tspan></text>
<text x="164" y="349.1" text-anchor="start" font-size="12" textLength="27.6" lengthAdjust="spacingAndGlyphs" font-family="Liberation Serif, DejaVu Serif, serif" fill="#333333">35.20<tspan dy="-4.3" font-size="8.4">s</tspan></text>
<text x="191.9" y="349.1" text-anchor="start" font-size="12" textLength="55" lengthAdjust="spacingAndGlyphs" font-family="Liberation Serif, DejaVu Serif, serif" fill="#333333">4<tspan dy="-4.3" font-size="8.4">h</tspan><tspan dy="4.3">39</tspan><tspan dy="-4.3" font-size="8.4">m</tspan><tspan dy="4.3">35.30</tspan><tspan dy="-4.3" font-size="8.4">s</tspan></text>
<text x="257.7" y="349.1" text-anchor="start" font-size="12" textLength="28.3" lengthAdjust="spacingAndGlyphs" font-family="Liberation Serif, DejaVu Serif, serif" fill="#333333">35.25<tspan dy="-4.3" font-size="8.4">s</tspan></text>
<text x="310.2" y="349.1" text-anchor="start" font-size="12" textLength="27.6" lengthAdjust="spacingAndGlyphs" font-family="Liberation Serif, DejaVu Serif, serif" fill="#333333">35.20<tspan dy="-4.3" font-size="8.4">s</tspan></text>
<text x="407" y="350.5" text-anchor="start" font-size="13.6" textLength="63" lengthAdjust="spacingAndGlyphs" font-family="Liberation Serif, DejaVu Serif, serif" fill="#333333">4<tspan dy="-4.9" font-size="9.5">h</tspan><tspan dy="4.9">39</tspan><tspan dy="-4.9" font-size="9.5">m</tspan><tspan dy="4.9">35.30</tspan><tspan dy="-4.9" font-size="9.5">s</tspan></text>
<text x="529.7" y="350.5" text-anchor="start" font-size="13.6" textLength="32.4" lengthAdjust="spacingAndGlyphs" font-family="Liberation Serif, DejaVu Serif, serif" fill="#333333">35.25<tspan dy="-4.9" font-size="9.5">s</tspan></text>
<text x="637" y="350.5" text-anchor="start" font-size="13.6" textLength="31.9" lengthAdjust="spacingAndGlyphs" font-family="Liberation Serif, DejaVu Serif, serif" fill="#333333">35.20<tspan dy="-4.9" font-size="9.5">s</tspan></text>
<g font-size="11" font-family="Liberation Sans, DejaVu Sans, sans-serif" fill="#111111" stroke="#111111" stroke-width="0.15" text-anchor="middle">
<text x="142.5" y="365.4">RA</text><text x="288.5" y="365.4">RA</text>
<text transform="translate(9.7,83) rotate(-90)">DEC</text>
<text transform="translate(9.7,255) rotate(-90)">DEC</text>
</g>
<g font-size="13" font-family="Liberation Sans, DejaVu Sans, sans-serif" fill="#111111" stroke="#111111" stroke-width="0.15" text-anchor="middle">
<text x="581.4" y="369.8">RA</text>
<text transform="translate(377,168.7) rotate(-90)">DEC</text>
</g>
</svg></body></html>
